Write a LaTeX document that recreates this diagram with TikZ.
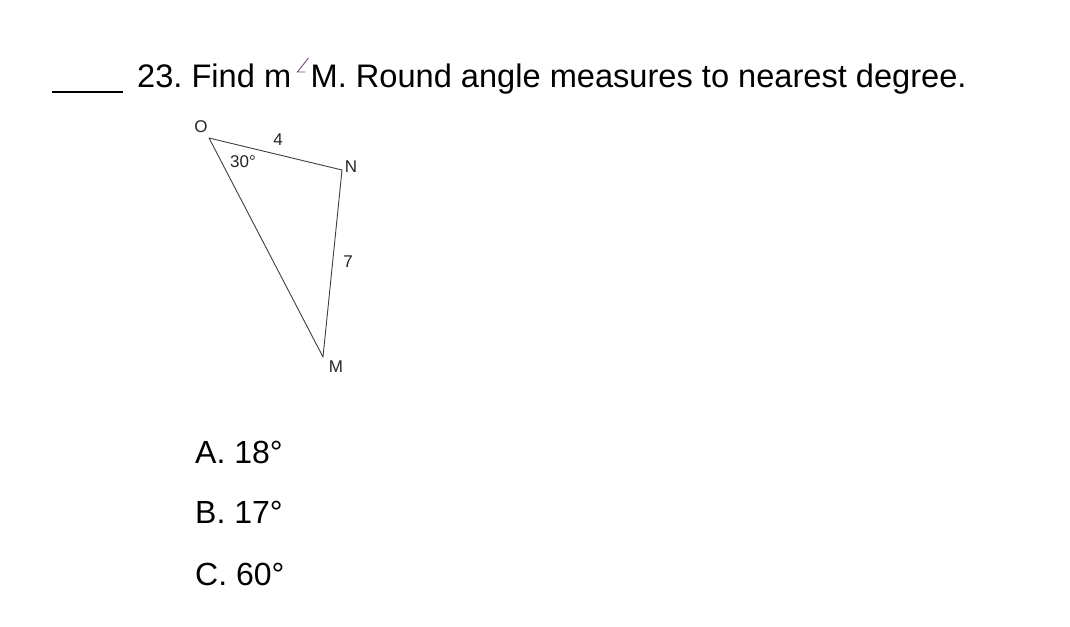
\documentclass[tikz,border=0pt]{standalone}
\usepackage{fontspec}
\setmainfont{Liberation Sans}
\usetikzlibrary{calc}
\frenchspacing
\begin{document}
\begin{tikzpicture}[x=1pt,y=-1pt,
  big/.style={font=\fontsize{32.6}{38}\selectfont, inner sep=0pt, anchor=base west},
  ans/.style={font=\fontsize{32}{36}\selectfont, inner sep=0pt, anchor=base west},
  lbl/.style={font=\fontsize{17}{19}\selectfont, inner sep=0pt, text=black!85},
  side/.style={draw=black!75, line width=0.9pt, line join=round}]
\useasboundingbox[fill=white] (0,0) rectangle (1070,626);
% answer blank
\draw[line width=2pt] (52,92) coordinate (u1) -- (123,92) coordinate (u2);
% title
\node[big] (t1) at (137,88) {23. Find m};
\coordinate (ang) at (t1.base east);
\draw[draw=violet!45!gray, line width=0.9pt] ($(ang)+(17,-30)$) -- ($(ang)+(6,-16)$) -- ($(ang)+(14,-16)$);
\node[big] (t2) at ($(t1.base east)+(19,0)$) {M. Round angle measures to nearest degree.};
% triangle
\coordinate (O) at (209,138);
\coordinate (N) at (342,170);
\coordinate (M) at (323,357);
\draw[side] (O) -- (N) -- (M) -- cycle;
\node[lbl] (lO) at (201,127) {O};
\node[lbl] (lN) at (351,167) {N};
\node[lbl] (lM) at (336,367) {M};
\node[lbl] (l4) at (278,140) {4};
\node[lbl] (l7) at (348,262) {7};
\node[lbl] (l30) at (243,162) {30°};
% answers
\node[ans] (a) at (195,463) {A. 18°};
\node[ans] (b) at (195,523) {B. 17°};
\node[ans] (c) at (195,585) {C. 60°};
\end{tikzpicture}
\end{document}
